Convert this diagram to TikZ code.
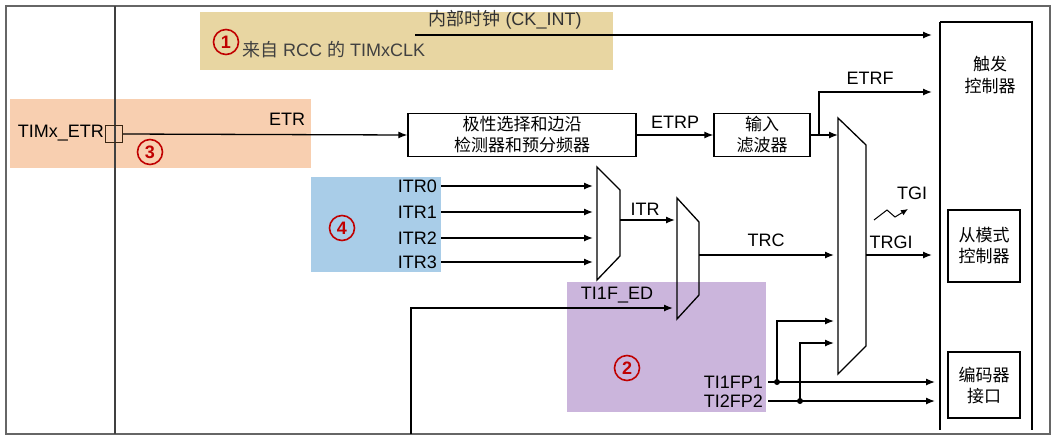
\documentclass[tikz,border=0pt]{standalone}
\usepackage{fontspec}
\setmainfont{Liberation Sans}
\newfontfamily\cjk{Noto Sans CJK SC}
\usetikzlibrary{arrows.meta}
\definecolor{cY}{HTML}{E8D6A2}
\definecolor{cO}{HTML}{F8CFB0}
\definecolor{cB}{HTML}{A9CDE8}
\definecolor{cP}{HTML}{CBB5DC}
\definecolor{cR}{HTML}{C00000}
\begin{document}
\begin{tikzpicture}[x=1pt,y=-1pt,
  every node/.style={font=\fontsize{18}{20}\selectfont, inner sep=0pt},
  blk/.style={draw, line width=1.3pt, align=center, font=\cjk\fontsize{17}{21}\selectfont},
  ar/.style={draw, line width=1.3pt, -{Latex[length=9pt,width=7pt]}},
  num/.style={circle, draw=cR, line width=1.6pt, text=cR, minimum size=25pt, font=\bfseries\fontsize{18}{18}\selectfont},
  dot/.style={circle, fill, minimum size=6pt}]
\useasboundingbox (0,0) rectangle (1055,440);
% backgrounds
\fill[cY] (200,12) rectangle (613,70);
\fill[cO] (10,99) rectangle (311,168);
\fill[cB] (311,177) rectangle (441,272);
\fill[cP] (567,282) rectangle (766,412);
% outer frame
\draw[gray!80!black, line width=1.8pt] (6,6) rectangle (1050,434);
\draw[gray!50!black, line width=1.4pt] (115,6) -- (115,434);
% right blocks
\draw[line width=1.3pt] (940,22) -- (940,430);
\draw[line width=1.3pt] (940,22) -- (1032,22) -- (1032,430);
\node[font=\cjk\fontsize{17}{22}\selectfont, align=center] (trig) at (990,75) {触发\\控制器};
\node[blk, minimum width=72pt, minimum height=72pt] (slave) at (984,246) {从模式\\控制器};
\node[blk, minimum width=72pt, minimum height=66pt] (enc) at (984,385) {编码器\\接口};
% row 1
\node[num] (n1) at (226,42) {1};
\node[anchor=west, text=black!75] (rcc) at (242,50) {{\cjk 来自} RCC {\cjk 的} TIMxCLK};
\node[text=black!80] (ckint) at (505,20) {{\cjk 内部时钟} (CK\_INT)};
\coordinate (ck0) at (415,35); \coordinate (ck1) at (932,35);
\path[ar] (ck0) -- (ck1);
% ETR
\node[anchor=east] (etrlbl) at (104,133) {TIMx\_ETR};
\node[draw=black!70!brown, line width=1.3pt, minimum size=17pt] (pin) at (114,134) {};
\node[num] (n3) at (150,152) {3};
\node (etrt) at (287,119) {ETR};
\node[blk, minimum width=228pt, minimum height=43pt] (pol) at (522,135) {极性选择和边沿\\检测器和预分频器};
\path[ar] (pin.east) -- (pol.west);
\node[blk, minimum width=96pt, minimum height=43pt] (flt) at (762,135) {输入\\滤波器};
\path[ar] (pol.east) -- node[above=6pt]{ETRP} (flt.west);
% big mux
\coordinate (M1) at (838,118); \coordinate (M2) at (866,145);
\coordinate (M3) at (866,346); \coordinate (M4) at (838,374);
\draw[line width=1.3pt] (M1) -- (M2) -- (M3) -- (M4) -- cycle;
\coordinate (mE) at (838,135);
\path[ar] (flt.east) -- (mE);
\coordinate (br) at (819,135); \coordinate (brU) at (819,92); \coordinate (etrf) at (932,92);
\path[ar] (br) -- (brU) -- (etrf);
\node (etrfl) at (870,78) {ETRF};
\coordinate (trgiS) at (866,255); \coordinate (trgiE) at (932,255);
\path[ar] (trgiS) -- (trgiE);
\node (trgi) at (891,242) {TRGI};
\node (tgi) at (912,193) {TGI};
\coordinate (z0) at (874,220); \coordinate (z1) at (887,210); \coordinate (z2) at (895,217);
\coordinate (z3) at (908,209);
\draw[line width=1pt, -{Latex[length=7pt,width=6pt]}] (z0) -- (z1) -- (z2) -- (z3);
% ITR mux
\coordinate (A1) at (597,167); \coordinate (A2) at (620,190);
\coordinate (A3) at (620,256); \coordinate (A4) at (597,280);
\draw[line width=1.3pt] (A1) -- (A2) -- (A3) -- (A4) -- cycle;
\foreach \i/\y in {0/186,1/212,2/238,3/262} {
  \node[anchor=east] (itr\i) at (437,\y) {ITR\i};
  \coordinate (in\i) at (593,\y);
  \path[ar] ([xshift=4pt]itr\i.east) -- (in\i);
}
\node[num] (n4) at (342,228) {4};
% second mux
\coordinate (B1) at (677,198); \coordinate (B2) at (699,222);
\coordinate (B3) at (699,295); \coordinate (B4) at (677,319);
\draw[line width=1.3pt] (B1) -- (B2) -- (B3) -- (B4) -- cycle;
\coordinate (itrS) at (620,220); \coordinate (itrE) at (675,220);
\path[ar] (itrS) -- (itrE);
\node (itrl) at (645,209) {ITR};
\coordinate (trcS) at (699,255); \coordinate (trcE) at (834,255);
\path[ar] (trcS) -- (trcE);
\node (trcl) at (766,240) {TRC};
\coordinate (ed0) at (411,434); \coordinate (ed1) at (411,308); \coordinate (ed2) at (673,308);
\path[ar] (ed0) -- (ed1) -- (ed2);
\node (edl) at (617,295) {TI1F\_ED};
% TI1FP1 / TI2FP2
\node[num] (n2) at (627,368) {2};
\node[anchor=east] (fp1) at (763,382) {TI1FP1};
\node[anchor=east] (fp2) at (763,401) {TI2FP2};
\coordinate (fp1E) at (935,382); \coordinate (fp2E) at (935,401);
\path[ar] ([xshift=5pt]fp1.east) -- (fp1E);
\path[ar] ([xshift=5pt]fp2.east) -- (fp2E);
\node[dot] (d1) at (777,382) {};
\node[dot] (d2) at (800,401) {};
\coordinate (d1U) at (777,321); \coordinate (d1E) at (834,321);
\coordinate (d2U) at (800,343); \coordinate (d2E) at (834,343);
\path[ar] (d1.center) -- (d1U) -- (d1E);
\path[ar] (d2.center) -- (d2U) -- (d2E);
\end{tikzpicture}
\end{document}
